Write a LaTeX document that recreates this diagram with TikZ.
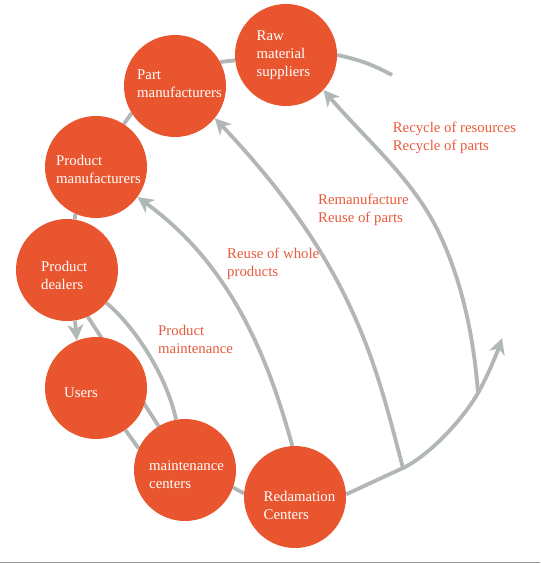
\documentclass[tikz,border=0pt]{standalone}
\usepackage{fontspec}
\setmainfont{Liberation Serif}
\usetikzlibrary{arrows.meta,backgrounds}
\definecolor{nodeorange}{HTML}{E9552F}
\definecolor{labelorange}{HTML}{E85A3C}
\definecolor{linegray}{HTML}{B1B6B6}
\definecolor{rulegray}{HTML}{8F94A0}
\tikzset{
  circ/.style={circle, fill=nodeorange, draw=none, minimum size=102pt, inner sep=0pt},
  ctext/.style={text=white, font=\fontsize{14.8}{18}\selectfont, align=left, inner sep=0pt, anchor=west},
  ltext/.style={text=labelorange, font=\fontsize{14.8}{18}\selectfont, align=left, inner sep=0pt, anchor=west},
  conn/.style={draw=linegray, line width=3.8pt},
  arr/.style={conn, -{Stealth[length=16pt,width=16pt,inset=5pt]}},
  baserule/.style={draw=rulegray, line width=1.5pt}
}
\begin{document}
\begin{tikzpicture}[x=1pt,y=-1pt]
\useasboundingbox (0,0) rectangle (540,564);
% circles
\node[circ] (raw) at (286,55) {};
\node[circ] (part) at (175,86) {};
\node[circ] (prodman) at (96,167) {};
\node[circ] (dealers) at (67,270) {};
\node[circ] (users) at (96,388) {};
\node[circ] (maint) at (185,470) {};
\node[circ] (redam) at (295,497) {};
% free coordinates
\coordinate (tailend) at (392,75);
\coordinate (b1) at (403,468);
\coordinate (b2) at (478,393);
\coordinate (rm) at (438.5,232);
\coordinate (outtip) at (502,338);
\coordinate (rl) at (0,562.5);
\coordinate (rr) at (540,562.5);
\begin{pgfonlayer}{background}
% ring
\draw[conn] (raw.0) to[bend left=8] (tailend);
\draw[conn] (part.28) -- (raw.186);
\draw[conn] (part.212) -- (prodman.57);
\draw[conn] (prodman.246) -- (dealers.81);
\draw[arr] (dealers.-81) -- (users.112);
\draw[conn] (dealers.-66) -- (maint.121);
\draw[conn] (users.-55) -- (maint.155);
\draw[conn] (dealers.-40) .. controls (130,322) and (165,370) .. (maint.100);
\draw[conn] (maint.-20) -- (redam.176);
% outgoing curve
\draw[arr] (redam.3) -- (b1) .. controls (430,455) and (463,419) .. (b2)
  .. controls (487,377.4) and (497.3,352.2) .. (outtip);
% return flows
\draw[arr] (redam.93) .. controls (271,369) and (236,268) .. (prodman.-36);
\draw[arr] (b1) .. controls (377,371) and (357,268) .. (part.-39);
\draw[arr] (b2) .. controls (473.8,338) and (462.4,281.5) .. (rm)
  .. controls (412.4,178) and (365.4,139.2) .. (raw.-43);
\end{pgfonlayer}
% texts in circles
\node[ctext] (rawt) at (256.5,55) {Raw\\material\\suppliers};
\node[ctext] (partt) at (137,83.5) {Part\\manufacturers};
\node[ctext] (prodmant) at (56,169.5) {Product\\manufacturers};
\node[ctext] (dealerst) at (41,275.5) {Product\\dealers};
\node[ctext] (userst) at (64,393) {Users};
\node[ctext] (maintt) at (149,474.5) {maintenance\\centers};
\node[ctext] (redamt) at (263.5,505.5) {Redamation\\Centers};
% flow labels
\node[ltext] (recyclel) at (392.6,138) {Recycle of resources\\Recycle of parts};
\node[ltext] (remanl) at (318,209.5) {Remanufacture\\Reuse of parts};
\node[ltext] (reusel) at (227,264) {Reuse of whole\\products};
\node[ltext] (maintl) at (158,339) {Product\\maintenance};
% bottom rule
\draw[baserule] (rl) -- (rr);
\end{tikzpicture}
\end{document}
